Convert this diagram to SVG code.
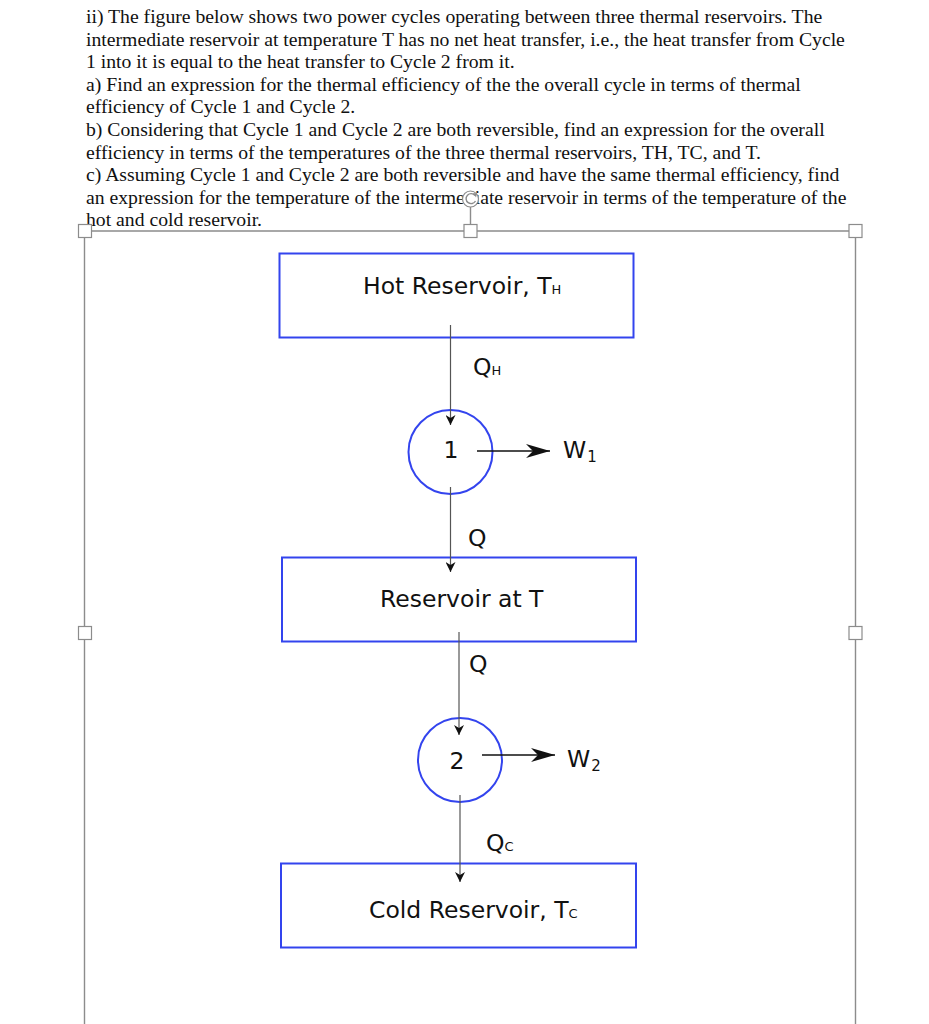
<svg xmlns="http://www.w3.org/2000/svg" width="929" height="1024" viewBox="0 0 929 1024">
<style>
.q{font-family:"Liberation Serif","Times New Roman",serif;font-size:19.7px;fill:#111}
.box{fill:none;stroke:#3344ee;stroke-width:2}
.lbl{font-family:"DejaVu Sans",Verdana,sans-serif;font-size:23.5px;fill:#111}
.sub{font-size:13px}
.wsub{font-size:15px}
.con{stroke:#555;stroke-width:1.2;fill:none}
.work{stroke:#111;stroke-width:1.6;fill:none}
.frame{stroke:#8c8c8c;stroke-width:1.4;fill:none}
.handle{fill:#fff;stroke:#8c8c8c;stroke-width:1.2}
</style>
<defs>
<marker id="ah" markerWidth="12" markerHeight="10" refX="10" refY="5" orient="auto" markerUnits="userSpaceOnUse">
<path d="M0,0 L10,5 L0,10 L3,5 Z" fill="#111"/>
</marker>
<marker id="aw" markerWidth="26" markerHeight="14" refX="24" refY="7" orient="auto" markerUnits="userSpaceOnUse">
<path d="M0,0 L24,7 L0,14 L7,7 Z" fill="#111"/>
</marker>
</defs>
<rect width="929" height="1024" fill="#fff"/>
<g id="question">
<text class="q" x="86" y="23">ii) The figure below shows two power cycles operating between three thermal reservoirs. The</text>
<text class="q" x="86" y="45.6">intermediate reservoir at temperature T has no net heat transfer, i.e., the heat transfer from Cycle</text>
<text class="q" x="86" y="68.2">1 into it is equal to the heat transfer to Cycle 2 from it.</text>
<text class="q" x="86" y="90.8">a) Find an expression for the thermal efficiency of the the overall cycle in terms of thermal</text>
<text class="q" x="86" y="113.4">efficiency of Cycle 1 and Cycle 2.</text>
<text class="q" x="86" y="136">b) Considering that Cycle 1 and Cycle 2 are both reversible, find an expression for the overall</text>
<text class="q" x="86" y="158.6">efficiency in terms of the temperatures of the three thermal reservoirs, TH, TC, and T.</text>
<text class="q" x="86" y="181.2">c) Assuming Cycle 1 and Cycle 2 are both reversible and have the same thermal efficiency, find</text>
<text class="q" x="86" y="203.8">an expression for the temperature of the intermediate reservoir in terms of the temperature of the</text>
<text class="q" x="86" y="226.4">hot and cold reservoir.</text>
</g>
<g id="selection-frame">
<path class="frame" d="M85,231 H855.5 M84.5,231 V1024 M855.5,231 V1024 M470.5,207 V224"/>
<rect class="handle" x="78.5" y="224.5" width="13" height="13"/>
<rect class="handle" x="464" y="224.5" width="13" height="13"/>
<rect class="handle" x="849" y="224.5" width="13" height="13"/>
<rect class="handle" x="78.5" y="626.5" width="13" height="13"/>
<rect class="handle" x="849" y="626.5" width="13" height="13"/>
<circle class="handle" cx="470.5" cy="199" r="8"/>
<path d="M475,195.5 A5,5 0 1 0 475.5,201" fill="none" stroke="#8c8c8c" stroke-width="1.4"/>
<path d="M473,193 L477,193.5 L476,197.5 Z" fill="#8c8c8c"/>
</g>
<g id="hot-reservoir">
<rect class="box" x="279.5" y="253.5" width="354" height="84"/>
<text class="lbl" x="363" y="294">Hot Reservoir, T<tspan class="sub">H</tspan></text>
</g>
<g id="cycle-1">
<circle class="box" cx="450.5" cy="452" r="42"/>
<text class="lbl" x="451" y="458" text-anchor="middle">1</text>
</g>
<g id="reservoir-t">
<rect class="box" x="282" y="557.5" width="354" height="84"/>
<text class="lbl" x="380" y="607">Reservoir at T</text>
</g>
<g id="cycle-2">
<circle class="box" cx="460" cy="760" r="42"/>
<text class="lbl" x="457" y="769" text-anchor="middle">2</text>
</g>
<g id="cold-reservoir">
<rect class="box" x="281" y="863.5" width="355" height="84"/>
<text class="lbl" x="369" y="918">Cold Reservoir, T<tspan class="sub">C</tspan></text>
</g>
<g id="connectors">
<path class="con" d="M450.5,325 V425" marker-end="url(#ah)"/>
<path class="con" d="M450.5,487 V572" marker-end="url(#ah)"/>
<path class="con" d="M459,632 V735" marker-end="url(#ah)"/>
<path class="con" d="M460,795 V882" marker-end="url(#ah)"/>
<path class="work" d="M477,451 H550" marker-end="url(#aw)"/>
<path class="work" d="M482,755 H555" marker-end="url(#aw)"/>
<text class="lbl" x="473" y="375">Q<tspan class="sub">H</tspan></text>
<text class="lbl" x="468" y="546">Q</text>
<text class="lbl" x="469" y="672">Q</text>
<text class="lbl" x="486" y="851">Q<tspan class="sub">C</tspan></text>
<text class="lbl" x="563" y="458">W<tspan class="wsub" dx="1" dy="4">1</tspan></text>
<text class="lbl" x="567" y="767">W<tspan class="wsub" dx="1" dy="4">2</tspan></text>
</g>
</svg>
